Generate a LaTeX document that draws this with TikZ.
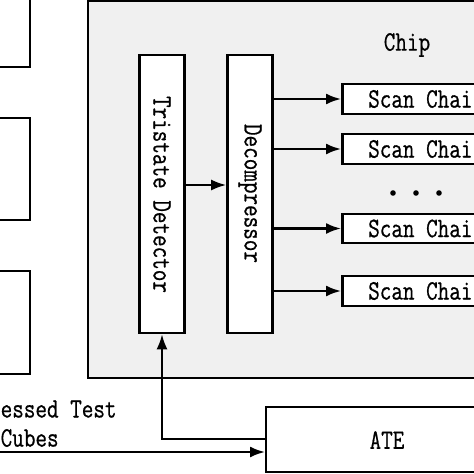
\documentclass[tikz,border=0pt]{standalone}
\usepackage{fontspec}
\newfontfamily\reffont{Latin Modern Mono}[FakeBold=0.7]
\usetikzlibrary{arrows.meta}
\definecolor{chipgray}{HTML}{F0F0F0}
\newcommand\tallt[1]{\scalebox{1}[1.25]{#1}}
\begin{document}
\begin{tikzpicture}[x=1pt,y=-1pt,
  font=\reffont\fontsize{22.5}{24}\selectfont,
  box/.style={draw=black,line width=2.6pt,fill=white,inner sep=0pt},
  conn/.style={line width=2.2pt,-{Latex[length=15pt,width=11pt]}},
  lbl/.style={inner sep=0pt}]
\useasboundingbox (0,0) rectangle (474,474);
\clip (0,0) rectangle (474,474);
% left boxes (cropped)
\node[box,minimum width=80pt,minimum height=100pt] (lb1) at (-10,17) {};
\node[box,minimum width=80pt,minimum height=102pt] (lb2) at (-10,169) {};
\node[box,minimum width=80pt,minimum height=103pt] (lb3) at (-10,322.5) {};
% chip
\node[draw=black,line width=2.8pt,fill=chipgray,minimum width=420pt,minimum height=377pt,inner sep=0pt] (chip) at (298,189.5) {};
\node[lbl] (chiplbl) at (407,45) {\tallt{Chip}};
% tristate detector
\node[box,minimum width=45pt,minimum height=278pt] (tri) at (162,194) {};
\node[lbl,rotate=-90] (trilbl) at (162,194.5) {\tallt{Tristate Detector}};
% decompressor
\node[box,minimum width=45pt,minimum height=278pt] (dec) at (250,194) {};
\node[lbl,rotate=-90] (declbl) at (250,193.5) {\tallt{Decompressor}};
% scan chains
\node[box,minimum width=180pt,minimum height=30pt,anchor=west] (sc1) at (341,99) {};
\node[box,minimum width=180pt,minimum height=30pt,anchor=west] (sc2) at (341,149) {};
\node[box,minimum width=180pt,minimum height=29pt,anchor=west] (sc3) at (341,228.5) {};
\node[box,minimum width=180pt,minimum height=30pt,anchor=west] (sc4) at (341,291) {};
\node[lbl,anchor=west] (sc1l) at (368,99) {\tallt{Scan Chai}};
\node[lbl,anchor=west] (sc2l) at (368,149) {\tallt{Scan Chai}};
\node[lbl,anchor=west] (sc3l) at (368,228.5) {\tallt{Scan Chai}};
\node[lbl,anchor=west] (sc4l) at (368,291) {\tallt{Scan Chai}};
% dots
\foreach \x in {393,416,439} \fill (\x,193) circle (2.8pt);
% connectors inside chip
\draw[conn] (tri.east |- 0,185) -- (dec.west |- 0,185);
\draw[conn] (dec.east |- sc1) -- (sc1.west);
\draw[conn] (dec.east |- sc2) -- (sc2.west);
\draw[conn] (dec.east |- sc3) -- (sc3.west);
\draw[conn] (dec.east |- sc4) -- (sc4.west);
% ATE
\node[box,line width=2.2pt,minimum width=250pt,minimum height=65pt,anchor=north west] (ate) at (265,406) {};
\node[lbl] (atelbl) at (387,440) {\tallt{ATE}};
% ATE to tristate
\draw[conn] (ate.west |- 0,439) -| (tri.south);
% input
\coordinate (in) at (-20,452);
\draw[conn] (in) -- (ate.west |- in);
\node[lbl,anchor=west] (cubes1) at (0.5,409) {\tallt{essed Test}};
\node[lbl,anchor=west] (cubes2) at (0.5,438) {\tallt{Cubes}};
\end{tikzpicture}
\end{document}
